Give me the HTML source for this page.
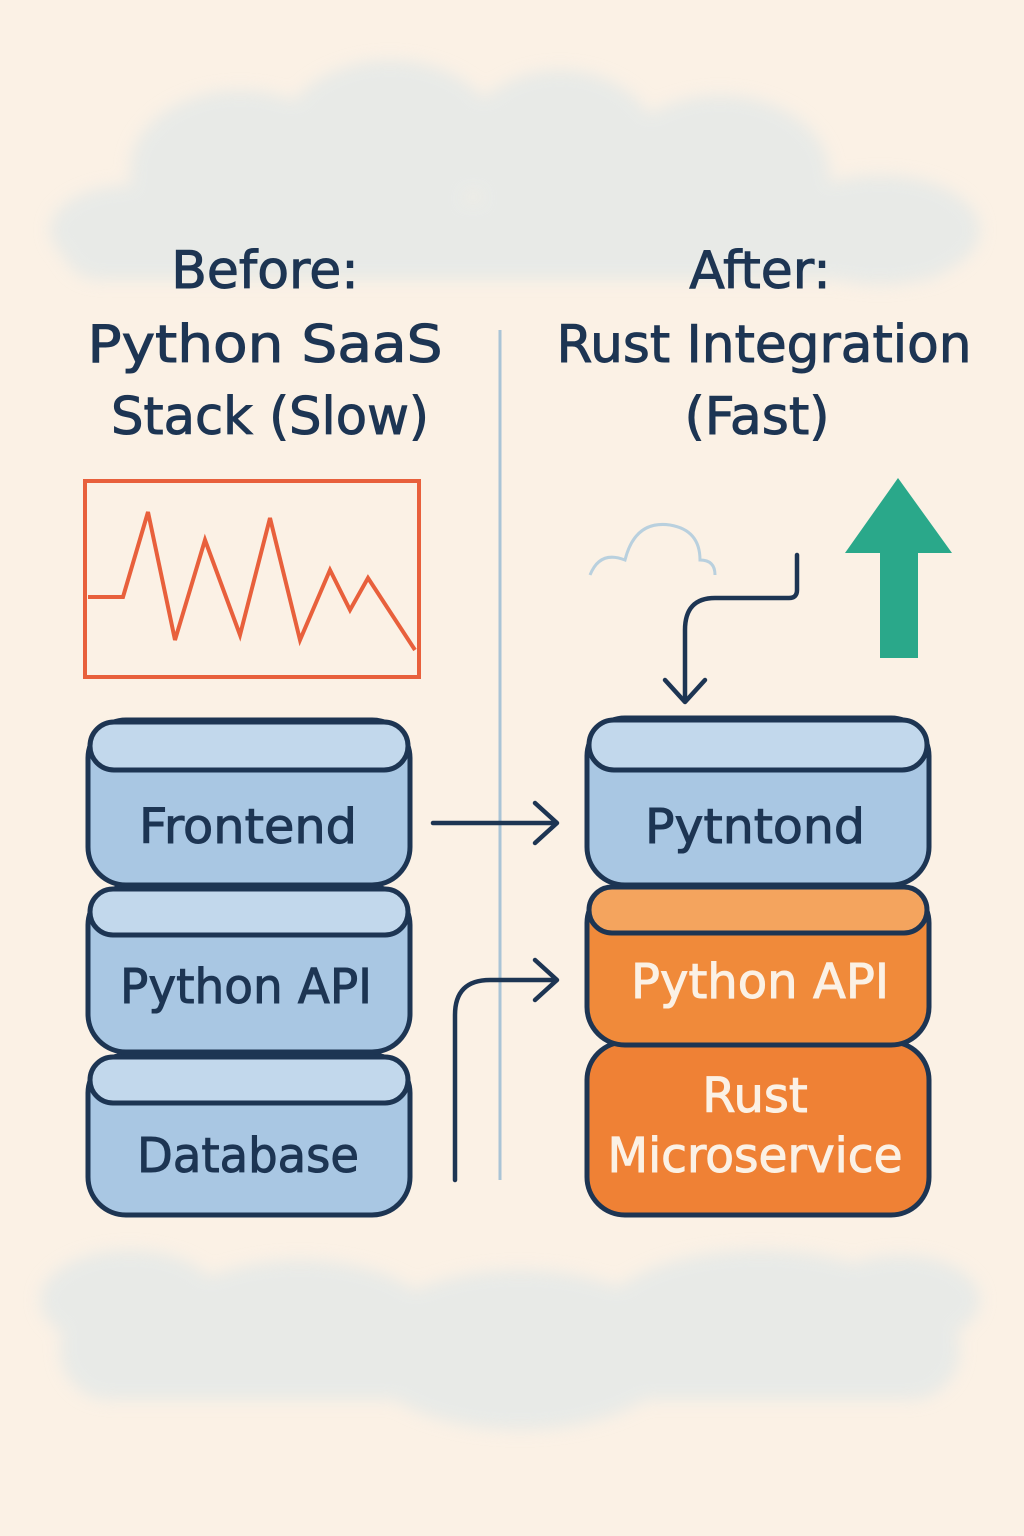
<!DOCTYPE html>
<html><head><meta charset="utf-8"><style>
html,body{margin:0;padding:0;background:#fbf1e5;}
svg{display:block}
text{font-family:"DejaVu Sans","Liberation Sans",sans-serif;}
</style></head><body>
<svg width="1024" height="1536" viewBox="0 0 1024 1536" xmlns="http://www.w3.org/2000/svg">
<defs>
<filter id="blur" x="-20%" y="-20%" width="140%" height="140%"><feGaussianBlur stdDeviation="8"/></filter>
</defs>
<rect width="1024" height="1536" fill="#fbf1e5"/>
<g fill="#e2e8e8" opacity="0.75" filter="url(#blur)">
<ellipse cx="130" cy="230" rx="80" ry="45"/>
<ellipse cx="240" cy="170" rx="110" ry="80"/>
<ellipse cx="390" cy="140" rx="110" ry="80"/>
<ellipse cx="560" cy="150" rx="100" ry="80"/>
<ellipse cx="720" cy="175" rx="110" ry="80"/>
<ellipse cx="880" cy="230" rx="100" ry="55"/>
<rect x="60" y="200" width="900" height="80" rx="40"/>
</g>
<g fill="#e2e8e8" opacity="0.75" filter="url(#blur)">
<ellipse cx="130" cy="1300" rx="90" ry="50"/>
<ellipse cx="300" cy="1330" rx="140" ry="70"/>
<ellipse cx="520" cy="1350" rx="160" ry="80"/>
<ellipse cx="760" cy="1320" rx="160" ry="70"/>
<ellipse cx="900" cy="1300" rx="80" ry="45"/>
<rect x="60" y="1300" width="900" height="100" rx="50"/>
</g>
<g fill="#1d3553" font-size="52" text-anchor="middle" stroke="#1d3553" stroke-width="1">
<text x="265" y="288">Before:</text>
<text x="265" y="362" textLength="355" lengthAdjust="spacingAndGlyphs">Python SaaS</text>
<text x="270" y="434" textLength="318" lengthAdjust="spacingAndGlyphs">Stack (Slow)</text>
<text x="760" y="288">After:</text>
<text x="764" y="362" textLength="415" lengthAdjust="spacingAndGlyphs">Rust Integration</text>
<text x="757" y="434">(Fast)</text>
</g>
<line x1="500" y1="330" x2="500" y2="1180" stroke="#a9c4d6" stroke-width="3"/>
<rect x="85" y="481" width="334" height="196" fill="none" stroke="#e8603c" stroke-width="4"/>
<polyline points="88,597 123,597 148,512 175,640 205,540 240,635 270,518 300,640 330,570 350,610 368,578 415,650" fill="none" stroke="#e8603c" stroke-width="4"/>
<path d="M590,575 q10,-25 35,-15 q10,-40 45,-35 q30,5 30,35 q15,0 15,15" fill="none" stroke="#b9d0de" stroke-width="3"/>
<polygon points="898,478 952,553 918,553 918,658 880,658 880,553 845,553" fill="#2aa88a"/>
<g fill="none" stroke="#1d3553" stroke-width="4.5" stroke-linecap="round" stroke-linejoin="round">
<path d="M797,555 V590 Q797,598 789,598 H715 Q685,598 685,630 V700"/>
<path d="M665,680 L685,702 L705,680"/>
<path d="M433,823 H555"/>
<path d="M535,803 L557,823 L535,843"/>
<path d="M455,1180 V1015 Q455,980 490,980 H555"/>
<path d="M535,960 L557,980 L535,1000"/>
</g>
<g stroke="#1d3553" stroke-width="5">
<rect x="88" y="1055" width="322" height="160" rx="38" fill="#a9c7e3"/>
<rect x="90" y="1057" width="318" height="46" rx="23" fill="#c2d8ec"/>
<rect x="88" y="887" width="322" height="165" rx="38" fill="#a9c7e3"/>
<rect x="90" y="889" width="318" height="46" rx="23" fill="#c2d8ec"/>
<rect x="88" y="720" width="322" height="165" rx="38" fill="#a9c7e3"/>
<rect x="90" y="722" width="318" height="48" rx="24" fill="#c2d8ec"/>
<rect x="587" y="1042" width="342" height="173" rx="38" fill="#ef8135"/>
<rect x="587" y="885" width="342" height="160" rx="38" fill="#f08a3a"/>
<rect x="589" y="887" width="338" height="46" rx="23" fill="#f4a45e"/>
<rect x="587" y="718" width="342" height="167" rx="38" fill="#a9c7e3"/>
<rect x="589" y="720" width="338" height="50" rx="25" fill="#c2d8ec"/>
</g>
<g font-size="48" text-anchor="middle" stroke-width="1">
<text x="248" y="843" fill="#1d3553" stroke="#1d3553" textLength="218" lengthAdjust="spacingAndGlyphs">Frontend</text>
<text x="246" y="1003" fill="#1d3553" stroke="#1d3553" textLength="252" lengthAdjust="spacingAndGlyphs">Python API</text>
<text x="248" y="1172" fill="#1d3553" stroke="#1d3553" textLength="222" lengthAdjust="spacingAndGlyphs">Database</text>
<text x="755" y="843" fill="#1d3553" stroke="#1d3553" textLength="220" lengthAdjust="spacingAndGlyphs">Pytntond</text>
<text x="760" y="998" fill="#fbf1e5" stroke="#fbf1e5" textLength="258" lengthAdjust="spacingAndGlyphs">Python API</text>
<text x="755" y="1112" fill="#fbf1e5" stroke="#fbf1e5">Rust</text>
<text x="755" y="1172" fill="#fbf1e5" stroke="#fbf1e5" textLength="295" lengthAdjust="spacingAndGlyphs">Microservice</text>
</g>
</svg>
</body></html>
